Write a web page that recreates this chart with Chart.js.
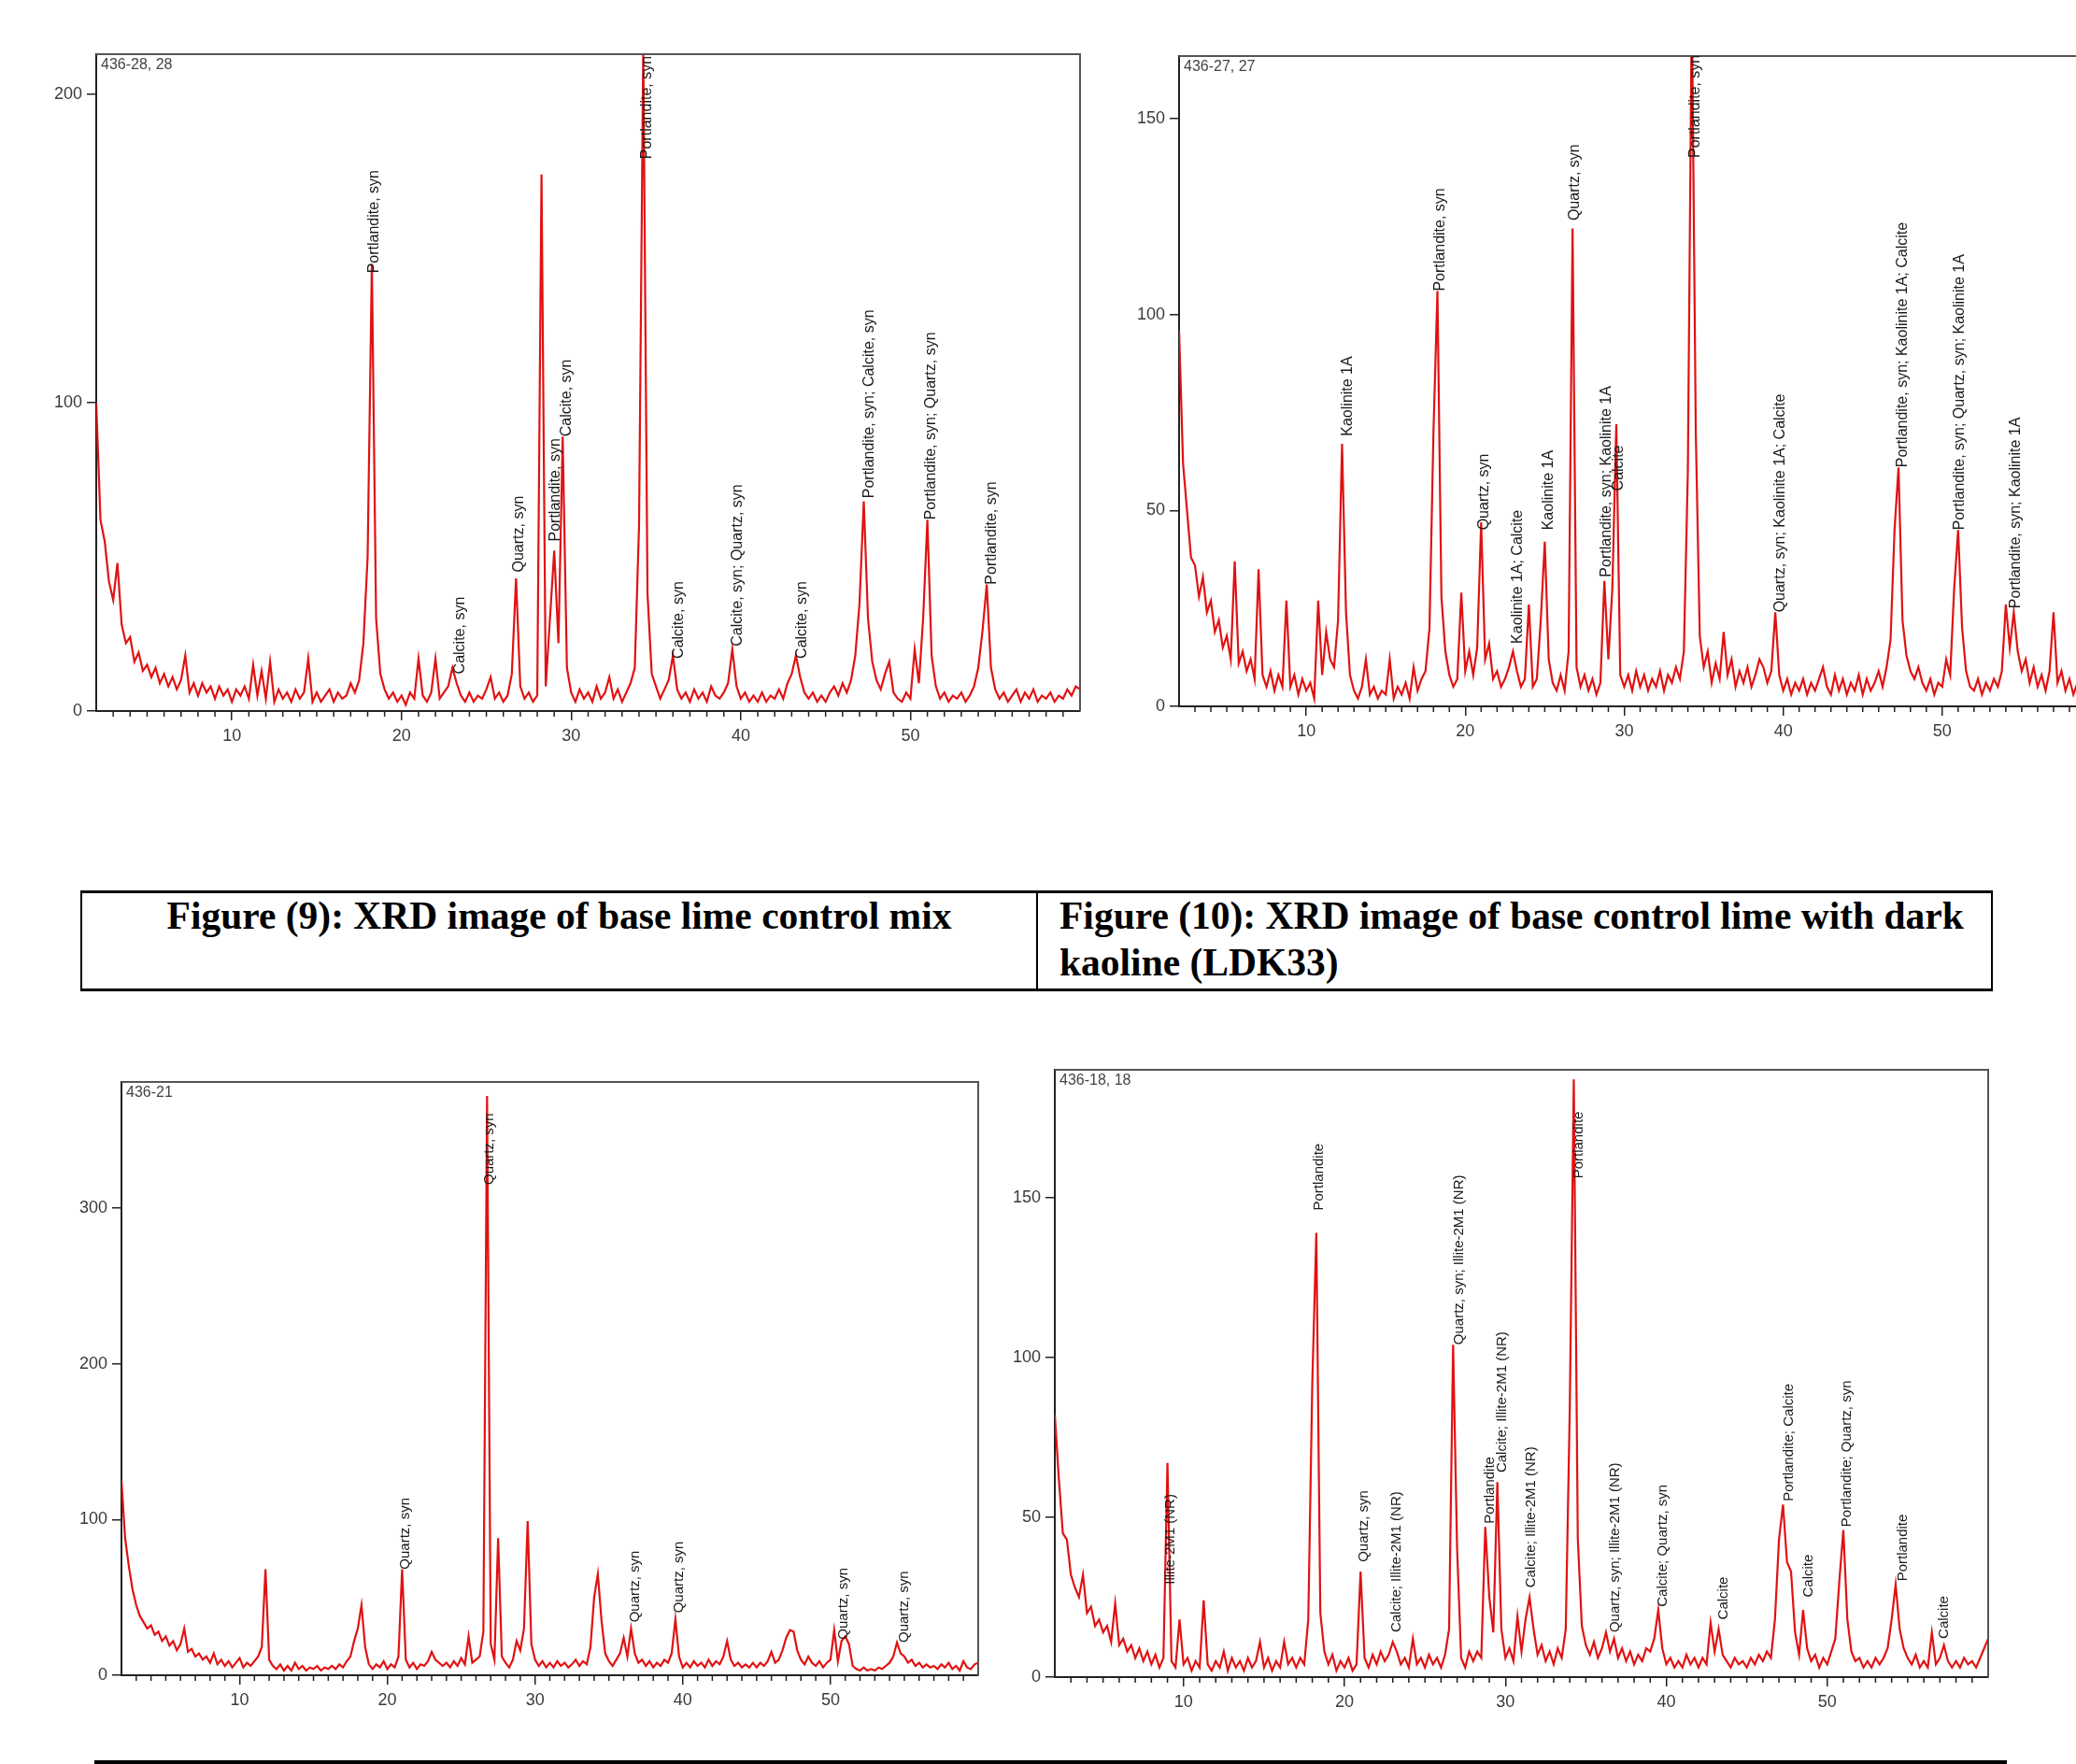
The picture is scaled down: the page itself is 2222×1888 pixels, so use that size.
<!DOCTYPE html>
<html>
<head>
<meta charset="utf-8">
<script src="https://cdn.jsdelivr.net/npm/chart.js@4.4.1/dist/chart.umd.min.js"></script>
<style>
  html, body { margin: 0; padding: 0; background: #fff; }
  body { position: relative; width: 2222px; height: 1888px; overflow: hidden; }
  canvas { position: absolute; }
  .box { position: absolute; left: 86px; top: 953px; width: 2047px; height: 108px; box-sizing: border-box; border: 2px solid #000; border-top-width: 3px; border-bottom-width: 3px; }
  .rule { position: absolute; background: #000; }
  .cap { position: absolute; top: 956px; font-family: "Liberation Serif", "Times New Roman", serif; font-weight: bold; font-size: 41.5px; line-height: 49.6px; color: #000; white-space: nowrap; }
</style>
</head>
<body>
<canvas id="xrd28"></canvas>
<canvas id="xrd27"></canvas>
<canvas id="xrd21"></canvas>
<canvas id="xrd18"></canvas>

<div class="box"></div>
<div class="rule" style="left:1109px;top:953px;width:2px;height:108px"></div>
<div class="cap" style="left:88px;width:1021px;text-align:center">Figure (9): XRD image of base lime control mix</div>
<div class="cap" style="left:1134px;text-align:left">Figure (10): XRD image of base control lime with dark<br>kaoline (LDK33)</div>
<div class="rule" style="left:101px;top:1884px;width:2047px;height:4px"></div>
<div class="rule" style="left:1123px;top:1884px;width:2px;height:4px"></div>

<script>
// 2-theta scan: 2.00 .. 60.00 deg, one count every 0.25 deg
const scanStart = 2;
const scanStep = 0.25;

const xTicks = [10, 20, 30, 40, 50];
const yTicks28 = [0, 100, 200];
const yTicks27 = [0, 50, 100, 150];
const yTicks21 = [0, 100, 200, 300];
const yTicks18 = [0, 50, 100, 150];

// sample 436-28 (Figure 9)
const counts28 = [
  100, 62, 55, 42, 36, 48, 28, 22,
  24, 16, 19, 13, 15, 11, 14, 9,
  12, 8, 11, 7, 10, 18, 6, 9,
  5, 9, 6, 8, 4, 8, 5, 7,
  3, 7, 5, 8, 4, 15, 5, 13,
  4, 16, 3, 7, 4, 6, 3, 7,
  4, 6, 17, 3, 6, 3, 5, 7,
  3, 6, 4, 5, 9, 6, 10, 22,
  50, 145, 30, 12, 7, 4, 6, 3,
  5, 2, 6, 4, 17, 5, 3, 6,
  17, 4, 6, 8, 14, 9, 5, 3,
  6, 3, 5, 4, 7, 11, 4, 6,
  3, 5, 12, 43, 8, 4, 6, 3,
  5, 174, 8, 30, 52, 22, 89, 14,
  6, 3, 7, 4, 6, 3, 8, 4,
  6, 11, 4, 7, 3, 6, 9, 14,
  60, 215, 38, 12, 8, 4, 7, 10,
  18, 7, 4, 6, 3, 7, 4, 6,
  3, 8, 5, 4, 6, 9, 20, 8,
  4, 6, 3, 5, 3, 6, 3, 5,
  4, 7, 4, 9, 12, 18, 11, 6,
  4, 6, 3, 5, 3, 6, 8, 5,
  9, 6, 10, 18, 35, 68, 30, 16,
  10, 7, 12, 16, 6, 4, 3, 6,
  4, 20, 9, 30, 62, 18, 8, 4,
  6, 3, 5, 4, 6, 3, 5, 8,
  14, 26, 41, 14, 7, 4, 6, 3,
  5, 7, 3, 6, 4, 7, 3, 5,
  4, 6, 3, 5, 4, 7, 5, 8,
  7
];
const peakPos28 = [18.4, 23.45, 26.95, 29.05, 29.75, 34.5, 36.35, 39.8, 43.6, 47.6, 51.2, 54.8];
const peakAt28 = [142, 12, 45, 55, 89, 179, 17, 21, 17, 69, 62, 41];
const peakText28 = ['Portlandite, syn', 'Calcite, syn', 'Quartz, syn', 'Portlandite, syn', 'Calcite, syn',
  'Portlandite, syn', 'Calcite, syn', 'Calcite, syn; Quartz, syn', 'Calcite, syn',
  'Portlandite, syn; Calcite, syn', 'Portlandite, syn; Quartz, syn', 'Portlandite, syn'];

// sample 436-27 (Figure 10)
const counts27 = [
  96, 62, 50, 38, 36, 28, 33, 24,
  27, 19, 22, 15, 18, 12, 37, 11,
  14, 9, 12, 7, 35, 8, 5, 9,
  4, 8, 5, 27, 5, 8, 3, 7,
  4, 6, 2, 27, 8, 19, 12, 10,
  22, 67, 24, 8, 4, 2, 5, 12,
  3, 5, 2, 4, 3, 12, 2, 5,
  3, 6, 2, 10, 4, 7, 9, 20,
  70, 106, 28, 14, 8, 5, 7, 29,
  9, 14, 8, 15, 47, 12, 16, 7,
  9, 5, 7, 10, 14, 9, 5, 7,
  26, 5, 7, 22, 42, 12, 6, 4,
  8, 4, 14, 122, 10, 5, 8, 4,
  7, 3, 6, 32, 12, 30, 72, 8,
  5, 8, 4, 9, 5, 8, 4, 7,
  5, 9, 4, 8, 6, 10, 7, 14,
  60, 180, 70, 18, 10, 14, 6, 11,
  7, 19, 8, 12, 5, 9, 6, 10,
  5, 8, 12, 10, 6, 9, 24, 8,
  4, 7, 3, 6, 4, 7, 3, 6,
  4, 7, 10, 5, 3, 8, 4, 7,
  3, 6, 4, 8, 3, 7, 4, 6,
  9, 5, 10, 17, 45, 61, 22, 13,
  9, 7, 10, 6, 4, 7, 3, 6,
  5, 12, 8, 30, 45, 20, 9, 5,
  4, 7, 3, 6, 4, 7, 5, 9,
  26, 15, 24, 14, 9, 12, 6, 10,
  5, 8, 4, 9, 24, 6, 9, 4,
  7, 3, 6, 4, 7, 4, 6, 5,
  6
];
const peakPos27 = [12.6, 18.42, 21.2, 23.3, 25.22, 26.88, 28.9, 29.68, 34.48, 39.82, 47.5, 51.08, 54.62];
const peakAt27 = [69, 106, 45, 16, 45, 124, 33, 55, 140, 24, 61, 45, 25];
const peakText27 = ['Kaolinite 1A', 'Portlandite, syn', 'Quartz, syn', 'Kaolinite 1A; Calcite', 'Kaolinite 1A',
  'Quartz, syn', 'Portlandite, syn; Kaolinite 1A', 'Calcite', 'Portlandite, syn',
  'Quartz, syn; Kaolinite 1A; Calcite', 'Portlandite, syn; Kaolinite 1A; Calcite',
  'Portlandite, syn; Quartz, syn; Kaolinite 1A', 'Portlandite, syn; Kaolinite 1A'];

// sample 436-21
const counts21 = [
  125, 88, 70, 55, 45, 38, 34, 30,
  32, 26, 28, 22, 25, 19, 22, 16,
  20, 30, 15, 17, 12, 14, 10, 12,
  8, 14, 7, 10, 6, 9, 5, 8,
  11, 5, 8, 6, 9, 12, 18, 68,
  10, 6, 4, 7, 3, 6, 3, 8,
  4, 6, 3, 5, 4, 6, 3, 5,
  4, 6, 4, 7, 5, 9, 12, 22,
  30, 45, 18, 7, 4, 7, 5, 9,
  4, 7, 5, 12, 68, 10, 5, 8,
  4, 7, 6, 9, 15, 10, 8, 6,
  8, 5, 9, 6, 11, 7, 25, 8,
  10, 12, 28, 372, 20, 10, 88, 12,
  8, 5, 10, 22, 16, 30, 99, 20,
  10, 6, 9, 5, 8, 5, 9, 6,
  8, 5, 7, 10, 6, 9, 7, 18,
  50, 65, 35, 14, 9, 6, 10, 14,
  24, 12, 30, 14, 8, 10, 6, 9,
  5, 8, 6, 10, 8, 14, 36, 12,
  5, 8, 5, 9, 6, 8, 5, 10,
  6, 9, 7, 12, 22, 10, 6, 8,
  5, 7, 5, 8, 5, 8, 6, 9,
  15, 8, 10, 16, 24, 29, 28, 16,
  10, 7, 12, 8, 6, 9, 5, 8,
  10, 29, 9, 22, 25, 20, 6, 4,
  3, 5, 3, 4, 3, 5, 4, 6,
  8, 12, 21, 14, 12, 8, 10, 6,
  8, 5, 7, 5, 6, 4, 7, 5,
  8, 4, 6, 3, 9, 5, 4, 7,
  8
];
const peakPos21 = [21.2, 26.9, 36.75, 39.75, 50.9, 55.0];
const peakAt21 = [68, 315, 34, 40, 23, 21];
const peakText21 = ['Quartz, syn', 'Quartz, syn', 'Quartz, syn', 'Quartz, syn', 'Quartz, syn', 'Quartz, syn'];

// sample 436-18
const counts18 = [
  82, 62, 45, 43, 32, 28, 25, 32,
  20, 22, 16, 18, 14, 16, 11, 23,
  10, 12, 8, 10, 6, 9, 5, 8,
  4, 7, 3, 6, 67, 5, 3, 18,
  4, 6, 2, 5, 3, 24, 4, 2,
  5, 3, 8, 2, 6, 3, 5, 2,
  6, 3, 5, 11, 3, 6, 2, 5,
  3, 11, 4, 6, 3, 6, 4, 18,
  92, 139, 20, 8, 4, 7, 2, 5,
  3, 6, 2, 4, 33, 6, 3, 7,
  4, 8, 5, 7, 11, 8, 4, 6,
  3, 12, 4, 6, 3, 7, 4, 6,
  3, 7, 15, 104, 40, 6, 3, 8,
  5, 8, 6, 47, 25, 14, 61, 15,
  6, 9, 5, 19, 8, 18, 25, 15,
  7, 10, 5, 8, 4, 9, 6, 15,
  84, 187, 43, 16, 10, 7, 11, 6,
  9, 14, 8, 12, 6, 9, 5, 8,
  4, 7, 5, 9, 8, 12, 21, 9,
  4, 6, 3, 5, 3, 7, 4, 6,
  3, 6, 4, 17, 8, 15, 7, 5,
  3, 6, 4, 5, 3, 6, 4, 7,
  5, 8, 6, 18, 43, 54, 36, 33,
  14, 7, 21, 9, 5, 7, 3, 6,
  4, 8, 12, 30, 46, 18, 8, 5,
  6, 3, 5, 3, 6, 4, 6, 9,
  18, 29, 15, 9, 6, 4, 7, 3,
  5, 3, 14, 4, 6, 10, 5, 3,
  5, 3, 6, 4, 5, 3, 6, 9,
  12
];
const peakPos18 = [9.2, 18.42, 21.22, 23.27, 27.12, 29.05, 29.78, 31.6, 34.55, 36.8, 39.8, 43.55, 47.6, 48.83, 51.25, 54.72, 57.25];
const peakAt18 = [29, 146, 36, 14, 104, 48, 64, 28, 156, 14, 22, 18, 55, 25, 47, 30, 12];
const peakText18 = ['Illite-2M1 (NR)', 'Portlandite', 'Quartz, syn', 'Calcite; Illite-2M1 (NR)',
  'Quartz, syn; Illite-2M1 (NR)', 'Portlandite', 'Calcite; Illite-2M1 (NR)', 'Calcite; Illite-2M1 (NR)',
  'Portlandite', 'Quartz, syn; Illite-2M1 (NR)', 'Calcite; Quartz, syn', 'Calcite',
  'Portlandite; Calcite', 'Calcite', 'Portlandite; Quartz, syn', 'Portlandite', 'Calcite'];

const lineRed = '#e01212';
const sans = '"Liberation Sans", Arial, sans-serif';

function peakMarks(title, pos, at, text, size) {
  return {
    id: 'peakMarks',
    afterDatasetsDraw(chart) {
      const ctx = chart.ctx, a = chart.chartArea;
      const x = chart.scales.x, y = chart.scales.y;
      ctx.save();
      // minor ticks every degree
      ctx.strokeStyle = '#222';
      ctx.lineWidth = 1.5;
      ctx.beginPath();
      for (let v = 3; v < 60; v++) {
        if (v % 10 === 0) continue;
        const px = x.getPixelForValue(v);
        ctx.moveTo(px, a.bottom);
        ctx.lineTo(px, a.bottom + 6);
      }
      ctx.stroke();
      // top and right side of the frame
      ctx.strokeStyle = '#555';
      ctx.lineWidth = 2;
      ctx.beginPath();
      ctx.moveTo(a.left, a.top);
      ctx.lineTo(a.right, a.top);
      ctx.lineTo(a.right, a.bottom);
      ctx.stroke();
      // phase names, written upward from the peak
      ctx.fillStyle = '#1a1a1a';
      ctx.font = size + 'px ' + sans;
      ctx.textAlign = 'left';
      ctx.textBaseline = 'middle';
      pos.forEach((p, i) => {
        ctx.save();
        ctx.translate(x.getPixelForValue(p), y.getPixelForValue(at[i]));
        ctx.rotate(-Math.PI / 2);
        ctx.fillText(text[i], 0, 0);
        ctx.restore();
      });
      ctx.fillStyle = '#444';
      ctx.font = '16px ' + sans;
      ctx.textBaseline = 'top';
      ctx.fillText(title, a.left + 5, a.top + 4);
      ctx.restore();
    }
  };
}

function createChart(id, frame, counts, yMax, yTicks, marks) {
  const canvas = document.getElementById(id);
  const w = Math.round(frame.r - frame.l) + 90;
  const h = Math.round(frame.b - frame.t) + 70;
  canvas.width = w;
  canvas.height = h;
  canvas.style.width = w + 'px';
  canvas.style.height = h + 'px';
  canvas.style.left = Math.round(frame.l - 70) + 'px';
  canvas.style.top = Math.round(frame.t - 20) + 'px';

  const points = counts.map((c, i) => ({ x: scanStart + i * scanStep, y: c }));

  return new Chart(canvas, {
    type: 'line',
    data: {
      datasets: [{
        data: points,
        borderColor: lineRed,
        borderWidth: 2.2,
        borderJoin: 'miter',
        pointRadius: 0,
        tension: 0,
        fill: false
      }]
    },
    options: {
      responsive: false,
      animation: false,
      devicePixelRatio: 1,
      layout: { padding: { top: 20, right: 20, left: 0, bottom: 0 } },
      plugins: { legend: { display: false }, tooltip: { enabled: false } },
      scales: {
        x: {
          type: 'linear',
          min: 2,
          max: 60,
          afterBuildTicks: s => { s.ticks = xTicks.map(v => ({ value: v })); },
          afterFit: s => { s.height = 50; },
          grid: { drawOnChartArea: false, drawTicks: true, tickLength: 10, color: '#222', lineWidth: 1.5 },
          border: { display: true, color: '#222', width: 2 },
          ticks: { font: { family: sans, size: 18 }, color: '#3a3a3a', padding: 6, maxRotation: 0 }
        },
        y: {
          min: 0,
          max: yMax,
          afterBuildTicks: s => { s.ticks = yTicks.map(v => ({ value: v })); },
          afterFit: s => { s.width = 70; },
          grid: { drawOnChartArea: false, drawTicks: true, tickLength: 10, color: '#222', lineWidth: 1.5 },
          border: { display: true, color: '#222', width: 2 },
          ticks: { font: { family: sans, size: 18 }, color: '#3a3a3a', padding: 5 }
        }
      }
    },
    plugins: [marks]
  });
}

createChart('xrd28', { l: 102.5, t: 58, r: 1155, b: 761 }, counts28, 213, yTicks28,
  peakMarks('436-28, 28', peakPos28, peakAt28, peakText28, 16));
createChart('xrd27', { l: 1262, t: 59.5, r: 2249, b: 755.3 }, counts27, 166, yTicks27,
  peakMarks('436-27, 27', peakPos27, peakAt27, peakText27, 16));
createChart('xrd21', { l: 130, t: 1158, r: 1046.5, b: 1792.6 }, counts21, 381, yTicks21,
  peakMarks('436-21', peakPos21, peakAt21, peakText21, 15));
createChart('xrd18', { l: 1129, t: 1145, r: 2128, b: 1795.4 }, counts18, 190, yTicks18,
  peakMarks('436-18, 18', peakPos18, peakAt18, peakText18, 15));
</script>
</body>
</html>
